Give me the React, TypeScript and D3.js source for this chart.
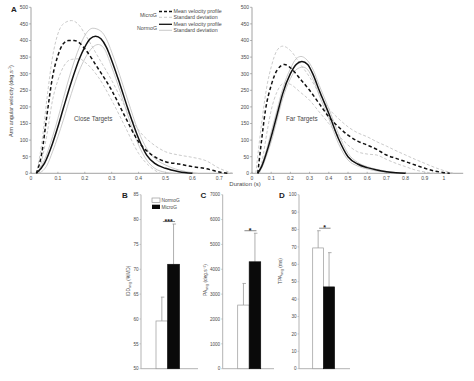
import React from 'react';
import * as d3 from 'd3';

type P = [number, number];

// ---------- Panel A data (time s, velocity deg/s) ----------
const closeMicroMean: P[] = [[0.02,0],[0.04,60],[0.06,180],[0.08,290],[0.10,355],[0.12,390],[0.14,400],[0.16,400],[0.18,393],[0.20,375],[0.25,315],[0.30,250],[0.35,170],[0.40,95],[0.45,55],[0.50,35],[0.55,28],[0.60,20],[0.65,14],[0.70,4],[0.73,0]];
const closeMicroUp: P[] = [[0.02,0],[0.04,90],[0.06,230],[0.08,350],[0.10,420],[0.12,450],[0.15,460],[0.18,445],[0.20,420],[0.25,350],[0.30,280],[0.35,200],[0.40,130],[0.45,90],[0.50,65],[0.55,55],[0.60,48],[0.65,38],[0.70,15],[0.75,0]];
const closeMicroLo: P[] = [[0.03,0],[0.06,120],[0.08,220],[0.10,280],[0.12,320],[0.15,343],[0.18,345],[0.20,335],[0.25,290],[0.30,220],[0.35,140],[0.40,60],[0.45,15],[0.48,0]];
const closeNormoMean: P[] = [[0.02,0],[0.05,30],[0.08,90],[0.10,140],[0.12,195],[0.15,275],[0.18,345],[0.20,380],[0.22,405],[0.24,413],[0.26,405],[0.28,380],[0.30,340],[0.33,270],[0.36,195],[0.40,105],[0.43,55],[0.46,30],[0.50,15],[0.55,5],[0.60,0]];
const closeNormoUp: P[] = [[0.02,0],[0.05,40],[0.08,110],[0.10,165],[0.12,225],[0.15,310],[0.18,380],[0.20,415],[0.23,437],[0.26,428],[0.28,405],[0.30,365],[0.33,295],[0.36,220],[0.40,125],[0.43,75],[0.46,45],[0.50,25],[0.55,10],[0.60,2],[0.62,0]];
const closeNormoLo: P[] = [[0.03,0],[0.06,25],[0.08,65],[0.10,110],[0.12,160],[0.15,240],[0.18,310],[0.20,345],[0.23,380],[0.25,388],[0.27,378],[0.30,320],[0.33,250],[0.36,175],[0.40,85],[0.43,40],[0.46,15],[0.50,3],[0.53,0]];

const farMicroMean: P[] = [[0.03,0],[0.05,100],[0.07,190],[0.10,265],[0.13,310],[0.17,328],[0.20,318],[0.25,285],[0.30,250],[0.35,210],[0.40,170],[0.45,140],[0.50,115],[0.55,97],[0.60,85],[0.65,72],[0.70,55],[0.75,45],[0.80,35],[0.85,25],[0.90,15],[0.95,7],[1.00,2],[1.03,0]];
const farMicroUp: P[] = [[0.02,0],[0.05,150],[0.08,270],[0.10,320],[0.13,370],[0.16,383],[0.20,370],[0.25,330],[0.30,290],[0.35,240],[0.40,195],[0.45,165],[0.50,140],[0.55,122],[0.60,110],[0.65,95],[0.70,82],[0.75,68],[0.80,55],[0.85,42],[0.90,30],[0.95,18],[1.00,8],[1.05,0]];
const farMicroLo: P[] = [[0.04,0],[0.06,60],[0.08,130],[0.10,190],[0.13,245],[0.17,272],[0.20,268],[0.25,245],[0.30,220],[0.35,185],[0.40,150],[0.45,115],[0.50,85],[0.55,65],[0.60,58],[0.65,55],[0.70,42],[0.75,30],[0.80,20],[0.85,10],[0.90,4],[0.95,0]];
const farNormoMean: P[] = [[0.03,0],[0.05,20],[0.08,70],[0.10,110],[0.13,175],[0.16,240],[0.20,300],[0.23,328],[0.26,337],[0.29,328],[0.32,295],[0.35,250],[0.40,180],[0.45,105],[0.50,50],[0.55,28],[0.60,17],[0.65,10],[0.70,5],[0.75,2],[0.80,0]];
const farNormoUp: P[] = [[0.03,0],[0.05,25],[0.08,80],[0.10,125],[0.13,190],[0.16,255],[0.20,315],[0.23,345],[0.255,352],[0.28,345],[0.32,310],[0.35,265],[0.40,195],[0.45,120],[0.50,60],[0.55,33],[0.60,20],[0.65,12],[0.70,6],[0.75,2],[0.80,0]];
const farNormoLo: P[] = [[0.03,0],[0.05,15],[0.08,60],[0.10,95],[0.13,160],[0.16,225],[0.20,285],[0.23,312],[0.265,320],[0.29,312],[0.32,280],[0.35,235],[0.40,165],[0.45,90],[0.50,40],[0.55,22],[0.60,13],[0.65,7],[0.70,3],[0.75,0]];

const velTicks = [0, 50, 100, 150, 200, 250, 300, 350, 400, 450, 500];
const closeTimeTicks = [0, 0.1, 0.2, 0.3, 0.4, 0.5, 0.6, 0.7];
const farTimeTicks = [0, 0.1, 0.2, 0.3, 0.4, 0.5, 0.6, 0.7, 0.8, 0.9, 1];

// ---------- Bar panels ----------
const groups = ['NormoG', 'MicroG'];
const iddMeans = [59.6, 71.0];
const iddErrTop = [64.4, 79.1];
const iddTicks = [50, 55, 60, 65, 70, 75, 80, 85];
const paMeans = [2560, 4300];
const paErrTop = [3430, 5450];
const paTicks = [0, 1000, 2000, 3000, 4000, 5000, 6000, 7000];
const tpaMeans = [69.4, 47.0];
const tpaErrTop = [79.3, 66.7];
const tpaTicks = [0, 10, 20, 30, 40, 50, 60, 70, 80, 90, 100];

const FONT = "'Liberation Sans', Arial, sans-serif";
const AX = '#8a8a8a';
const TXT = '#4a4a4a';
const SD = '#c4c4c4';

function Curve({ data, x, y, stroke, w, dash }: any) {
  const line = d3.line<P>().x(d => x(d[0])).y(d => y(d[1])).curve(d3.curveMonotoneX);
  return <path d={line(data) || ''} fill="none" stroke={stroke} strokeWidth={w} strokeDasharray={dash} />;
}

function VelPanel({ x0, x1, tmax, tticks, sets, label, labelX }: any) {
  const x = d3.scaleLinear().domain([0, tmax]).range([x0, x1]);
  const y = d3.scaleLinear().domain([0, 500]).range([173.3, 7.3]);
  const fmt = (t: number) => (t === 0 ? '0' : String(t));
  return (
    <g>
      <line x1={x0} x2={x0} y1={y(0)} y2={y(500)} stroke={AX} strokeWidth={0.8} />
      <line x1={x0} x2={x1} y1={y(0)} y2={y(0)} stroke={AX} strokeWidth={0.8} />
      {velTicks.map(v => (
        <g key={v}>
          <line x1={x0 - 2} x2={x0} y1={y(v)} y2={y(v)} stroke={AX} strokeWidth={0.6} />
          <text x={x0 - 3} y={y(v) + 1.8} fontSize={5} textAnchor="end" fill={TXT}>{v}</text>
        </g>
      ))}
      {tticks.map((t: number) => (
        <g key={t}>
          <line x1={x(t)} x2={x(t)} y1={y(0)} y2={y(0) - 1.5} stroke={AX} strokeWidth={0.6} />
          <text x={x(t)} y={y(0) + 6.5} fontSize={5} textAnchor="middle" fill={TXT}>{fmt(t)}</text>
        </g>
      ))}
      <Curve data={sets.microUp} x={x} y={y} stroke={SD} w={0.9} dash="3,2" />
      <Curve data={sets.microLo} x={x} y={y} stroke={SD} w={0.9} dash="3,2" />
      <Curve data={sets.normoUp} x={x} y={y} stroke={SD} w={0.9} />
      <Curve data={sets.normoLo} x={x} y={y} stroke={SD} w={0.9} />
      <Curve data={sets.normoMean} x={x} y={y} stroke="#111" w={1.5} />
      <Curve data={sets.microMean} x={x} y={y} stroke="#111" w={1.5} dash="3.5,2.5" />
      <text x={labelX} y={121} fontSize={6.3} fill={TXT}>{label}</text>
    </g>
  );
}

function BarPanel({ axisX, endX, b0, b1, domain, ticks, means, errs, letter, letterX, ylab, sub, unit, ylabX, ylabY, stars }: any) {
  const y = d3.scaleLinear().domain(domain).range([368.7, 194.7]);
  const xb = d3.scaleBand().domain(groups).range([b0, b1]);
  const bw = xb.bandwidth();
  const cx = (g: string) => (xb(g) as number) + bw / 2;
  const sigY = y(d3.max(errs) as number) - 2.5;
  return (
    <g>
      <line x1={axisX} x2={axisX} y1={y(domain[0])} y2={y(domain[1])} stroke="#aaa" strokeWidth={0.9} />
      <line x1={axisX} x2={endX} y1={y(domain[0])} y2={y(domain[0])} stroke="#aaa" strokeWidth={0.9} />
      {ticks.map((v: number) => (
        <g key={v}>
          <line x1={axisX - 1.5} x2={axisX} y1={y(v)} y2={y(v)} stroke="#aaa" strokeWidth={0.6} />
          <text x={axisX - 2.5} y={y(v) + 1.7} fontSize={4.6} textAnchor="end" fill={TXT}>{v}</text>
        </g>
      ))}
      {groups.map((g, i) => (
        <g key={g}>
          <line x1={cx(g)} x2={cx(g)} y1={y(means[i])} y2={y(errs[i])} stroke="#9a9a9a" strokeWidth={0.8} />
          <line x1={cx(g) - 1} x2={cx(g) + 2.5} y1={y(errs[i])} y2={y(errs[i])} stroke="#9a9a9a" strokeWidth={0.8} />
          <rect x={xb(g)} y={y(means[i])} width={bw} height={y(domain[0]) - y(means[i])}
            fill={i === 0 ? '#fff' : '#0a0a0a'} stroke={i === 0 ? '#999' : '#0a0a0a'} strokeWidth={0.7} />
        </g>
      ))}
      <line x1={cx(groups[0]) + 1} x2={cx(groups[1]) + 1.5} y1={sigY} y2={sigY} stroke="#555" strokeWidth={0.7} />
      <text x={(cx(groups[0]) + cx(groups[1])) / 2 + 1} y={sigY + 2.2} fontSize={7} textAnchor="middle" fill="#222" fontWeight="bold">{stars}</text>
      <text x={letterX} y={197.5} fontSize={8} fontWeight="bold" fill="#222">{letter}</text>
      <text transform={`translate(${ylabX},${ylabY}) rotate(-90)`} fontSize={4.8} textAnchor="middle" fill={TXT}>
        {ylab}<tspan fontSize={3.6} dy={1.2}>{sub}</tspan><tspan dy={-1.2}>{unit}</tspan>
      </text>
    </g>
  );
}

export default function App() {
  return (
    <svg width={474} height={381} style={{ position: 'absolute', left: 0, top: 0, background: '#fff' }} fontFamily={FONT}>
      <rect width={474} height={381} fill="#fff" />
      <text x={11} y={12} fontSize={8} fontWeight="bold" fill="#222">A</text>
      <text transform="translate(12.5,101) rotate(-90)" fontSize={5.5} textAnchor="middle" fill={TXT}>
        Arm angular velocity (deg.s<tspan fontSize={3.8} dy={-2}>-1</tspan><tspan dy={2}>)</tspan>
      </text>
      <VelPanel x0={31} x1={232.75} tmax={0.75} tticks={closeTimeTicks} label="Close Targets" labelX={74}
        sets={{ microMean: closeMicroMean, microUp: closeMicroUp, microLo: closeMicroLo, normoMean: closeNormoMean, normoUp: closeNormoUp, normoLo: closeNormoLo }} />
      <VelPanel x0={252} x1={463.2} tmax={1.1} tticks={farTimeTicks} label="Far Targets" labelX={286}
        sets={{ microMean: farMicroMean, microUp: farMicroUp, microLo: farMicroLo, normoMean: farNormoMean, normoUp: farNormoUp, normoLo: farNormoLo }} />
      <text x={245} y={185.5} fontSize={6} textAnchor="middle" fill={TXT}>Duration (s)</text>

      {/* legend */}
      <g fontSize={5.3} fill={TXT}>
        <text x={157} y={16.5} textAnchor="end">MicroG</text>
        <line x1={159} x2={172} y1={11.5} y2={11.5} stroke="#111" strokeWidth={1.3} strokeDasharray="3,2" />
        <text x={173.5} y={13.3}>Mean velocity profile</text>
        <line x1={159} x2={172} y1={17.3} y2={17.3} stroke={SD} strokeWidth={0.9} strokeDasharray="3,2" />
        <text x={173.5} y={19}>Standard deviation</text>
        <text x={157} y={29.5} textAnchor="end">NormoG</text>
        <line x1={159} x2={172} y1={24.3} y2={24.3} stroke="#111" strokeWidth={1.3} />
        <text x={173.5} y={26}>Mean velocity profile</text>
        <line x1={159} x2={172} y1={30.3} y2={30.3} stroke={SD} strokeWidth={0.9} />
        <text x={173.5} y={32}>Standard deviation</text>
      </g>

      <BarPanel axisX={141} endX={198} b0={156} b1={179.4} domain={[50, 85]} ticks={iddTicks} means={iddMeans} errs={iddErrTop}
        letter="B" letterX={122} ylab="IDD" sub="ang" unit=" (%MD)" ylabX={130} ylabY={281} stars="***" />
      <BarPanel axisX={222.7} endX={274} b0={237.7} b1={260.7} domain={[0, 7000]} ticks={paTicks} means={paMeans} errs={paErrTop}
        letter="C" letterX={200.5} ylab="PA" sub="ang" unit=" (deg.s⁻²)" ylabX={207} ylabY={280} stars="*" />
      <BarPanel axisX={299} endX={350} b0={312.7} b1={334.5} domain={[0, 100]} ticks={tpaTicks} means={tpaMeans} errs={tpaErrTop}
        letter="D" letterX={279} ylab="TPA" sub="ang" unit=" (ms)" ylabX={282} ylabY={271} stars="*" />

      {/* bar legend */}
      <g fontSize={4.8} fill={TXT}>
        <rect x={152} y={198} width={8} height={4.3} fill="#fff" stroke="#888" strokeWidth={0.6} />
        <text x={161.5} y={202}>NormoG</text>
        <rect x={152} y={204.7} width={8} height={4.3} fill="#0a0a0a" />
        <text x={161.5} y={208.7}>MicroG</text>
      </g>
    </svg>
  );
}
